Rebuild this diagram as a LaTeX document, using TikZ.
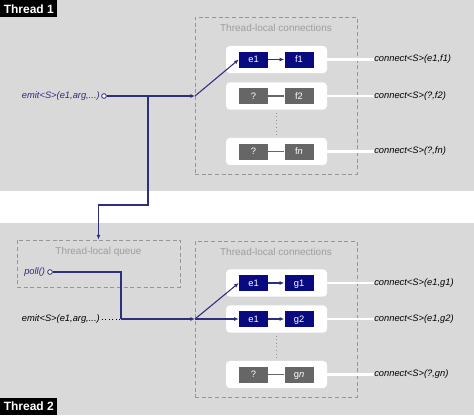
\documentclass[tikz,border=0pt]{standalone}
\usepackage{fontspec}
\setmainfont{Liberation Sans}
\usetikzlibrary{positioning,calc,arrows.meta}
\definecolor{panelgray}{RGB}{217,217,217}
\definecolor{framegray}{RGB}{150,150,150}
\definecolor{titlegray}{RGB}{158,158,158}
\definecolor{slotblue}{RGB}{10,10,128}
\definecolor{slotgray}{RGB}{102,102,102}
\definecolor{wireblue}{RGB}{46,46,126}

\begin{document}
\begin{tikzpicture}[x=0.75pt,y=-0.75pt,
    every node/.style={font=\fontsize{7}{8}\selectfont,inner sep=0pt},
    tag/.style={fill=black,text=white,font=\fontsize{9}{10}\selectfont\bfseries,minimum width=42.75pt,minimum height=12.75pt},
    frame/.style={draw=framegray,dash pattern=on 3pt off 2pt,line width=0.6pt},
    framelabel/.style={text=titlegray,font=\fontsize{7.5}{9}\selectfont},
    slotbox/.style={fill=white,rounded corners=3pt,minimum width=75.75pt,minimum height=20.5pt},
    live/.style={fill=slotblue,text=white,minimum width=21.75pt,minimum height=12pt,text height=5pt,text depth=0pt},
    dead/.style={fill=slotgray,text=white,minimum width=21.75pt,minimum height=12pt,text height=5pt,text depth=0pt},
    call/.style={font=\fontsize{7}{8}\selectfont\itshape,anchor=west},
    wire/.style={draw=wireblue,line width=0.8pt},
    tip/.style={-{Latex[length=3.5pt,width=3pt]}},
    livelink/.style={wire,tip},
    deadlink/.style={draw=slotgray,line width=0.8pt},
    port/.style={circle,draw=wireblue,line width=0.6pt,minimum size=3.5pt,fill=white},
    hookup/.style={draw=white,line width=1.6pt}]
    \useasboundingbox (0,0) rectangle (474,415);
    \fill[white] (0,0) rectangle (474,415);
    \fill[panelgray] (0,0) rectangle (474,191);
    \fill[panelgray] (0,223) rectangle (474,415);
    \node[tag,anchor=north west] (tag1) at (0,0) {Thread 1};
    \node[tag,anchor=south west] (tag2) at (0,415) {Thread 2};

    % thread 1 connections
    \node[frame,minimum width=121.5pt,minimum height=117.75pt] (tframe) at (276,95.5) {};
    \node[framelabel] (ttitle) at (276,28) {Thread-local connections};
    \foreach \n/\y/\st/\lk/\a/\b/\sig in {%
       1/59.5/live/livelink/e1/f1/{e1,f1},
       2/96/dead/deadlink/?/f2/{?,f2},
       3/151.5/dead/deadlink/?/{f\textit{n}}/{?,fn}}{%
       \node[slotbox] (tslot\n) at (276.5,\y) {};
       \node[\st] (ta\n) at (253.5,\y) {\a};
       \node[\st] (tb\n) at (299,\y) {\b};
       \draw[\lk] (ta\n) -- (tb\n);
       \node[call] (tcall\n) at (374,\y) {connect<S>(\sig)};
       \draw[hookup] (tslot\n) -- (tcall\n);
    }
    \draw[framegray,dotted,line width=0.7pt,shorten <=2pt,shorten >=2pt] (tslot2) -- (tslot3);

    % thread 2 queue
    \node[frame,minimum width=122.25pt,minimum height=35.25pt] (queue) at (98.5,263.5) {};
    \node[framelabel] (qtitle) at (98.5,252) {Thread-local queue};

    % thread 2 connections
    \node[frame,minimum width=121.5pt,minimum height=117pt] (bframe) at (276,319) {};
    \node[framelabel] (btitle) at (276,252) {Thread-local connections};
    \foreach \n/\y/\st/\lk/\a/\b/\sig in {%
       1/283/live/livelink/e1/g1/{e1,g1},
       2/319/live/livelink/e1/g2/{e1,g2},
       3/374.5/dead/deadlink/?/{g\textit{n}}/{?,gn}}{%
       \node[slotbox] (bslot\n) at (276.5,\y) {};
       \node[\st] (ba\n) at (253.5,\y) {\a};
       \node[\st] (bb\n) at (299,\y) {\b};
       \draw[\lk] (ba\n) -- (bb\n);
       \node[call] (bcall\n) at (374,\y) {connect<S>(\sig)};
       \draw[hookup] (bslot\n) -- (bcall\n);
    }
    \draw[framegray,dotted,line width=0.7pt,shorten <=2pt,shorten >=2pt] (bslot2) -- (bslot3);

    % thread 1 emit
    \node[call,anchor=east,text=wireblue] (temit) at (100,96) {emit<S>(e1,arg,...)};
    \node[port] (tport) at (104,96) {};
    \coordinate (tsplit) at (148,96);
    \coordinate (thub) at (195,96);
    \draw[livelink] (tport) -- (thub);
    \draw[livelink] (thub) -- (ta1.west);
    \draw[livelink] (tsplit) -- ++(0,109) -| (queue.north);

    % thread 2 poll and emit
    \node[call,text=wireblue] (poll) at (24,272) {poll()};
    \node[port] (pport) at (50,272) {};
    \node[call,anchor=east] (bemit) at (100,319) {emit<S>(e1,arg,...)};
    \coordinate (bjoin) at (121,319);
    \coordinate (bhub) at (195,319);
    \draw[dotted,line width=0.6pt,shorten <=1.5pt] (bemit) -- (bjoin);
    \draw[wire] (pport) -| (bjoin);
    \draw[livelink] (bjoin) -- (bhub);
    \draw[livelink] (bhub) -- (ba1.west);
    \draw[livelink] (bhub) -- (ba2.west);
\end{tikzpicture}
\end{document}
